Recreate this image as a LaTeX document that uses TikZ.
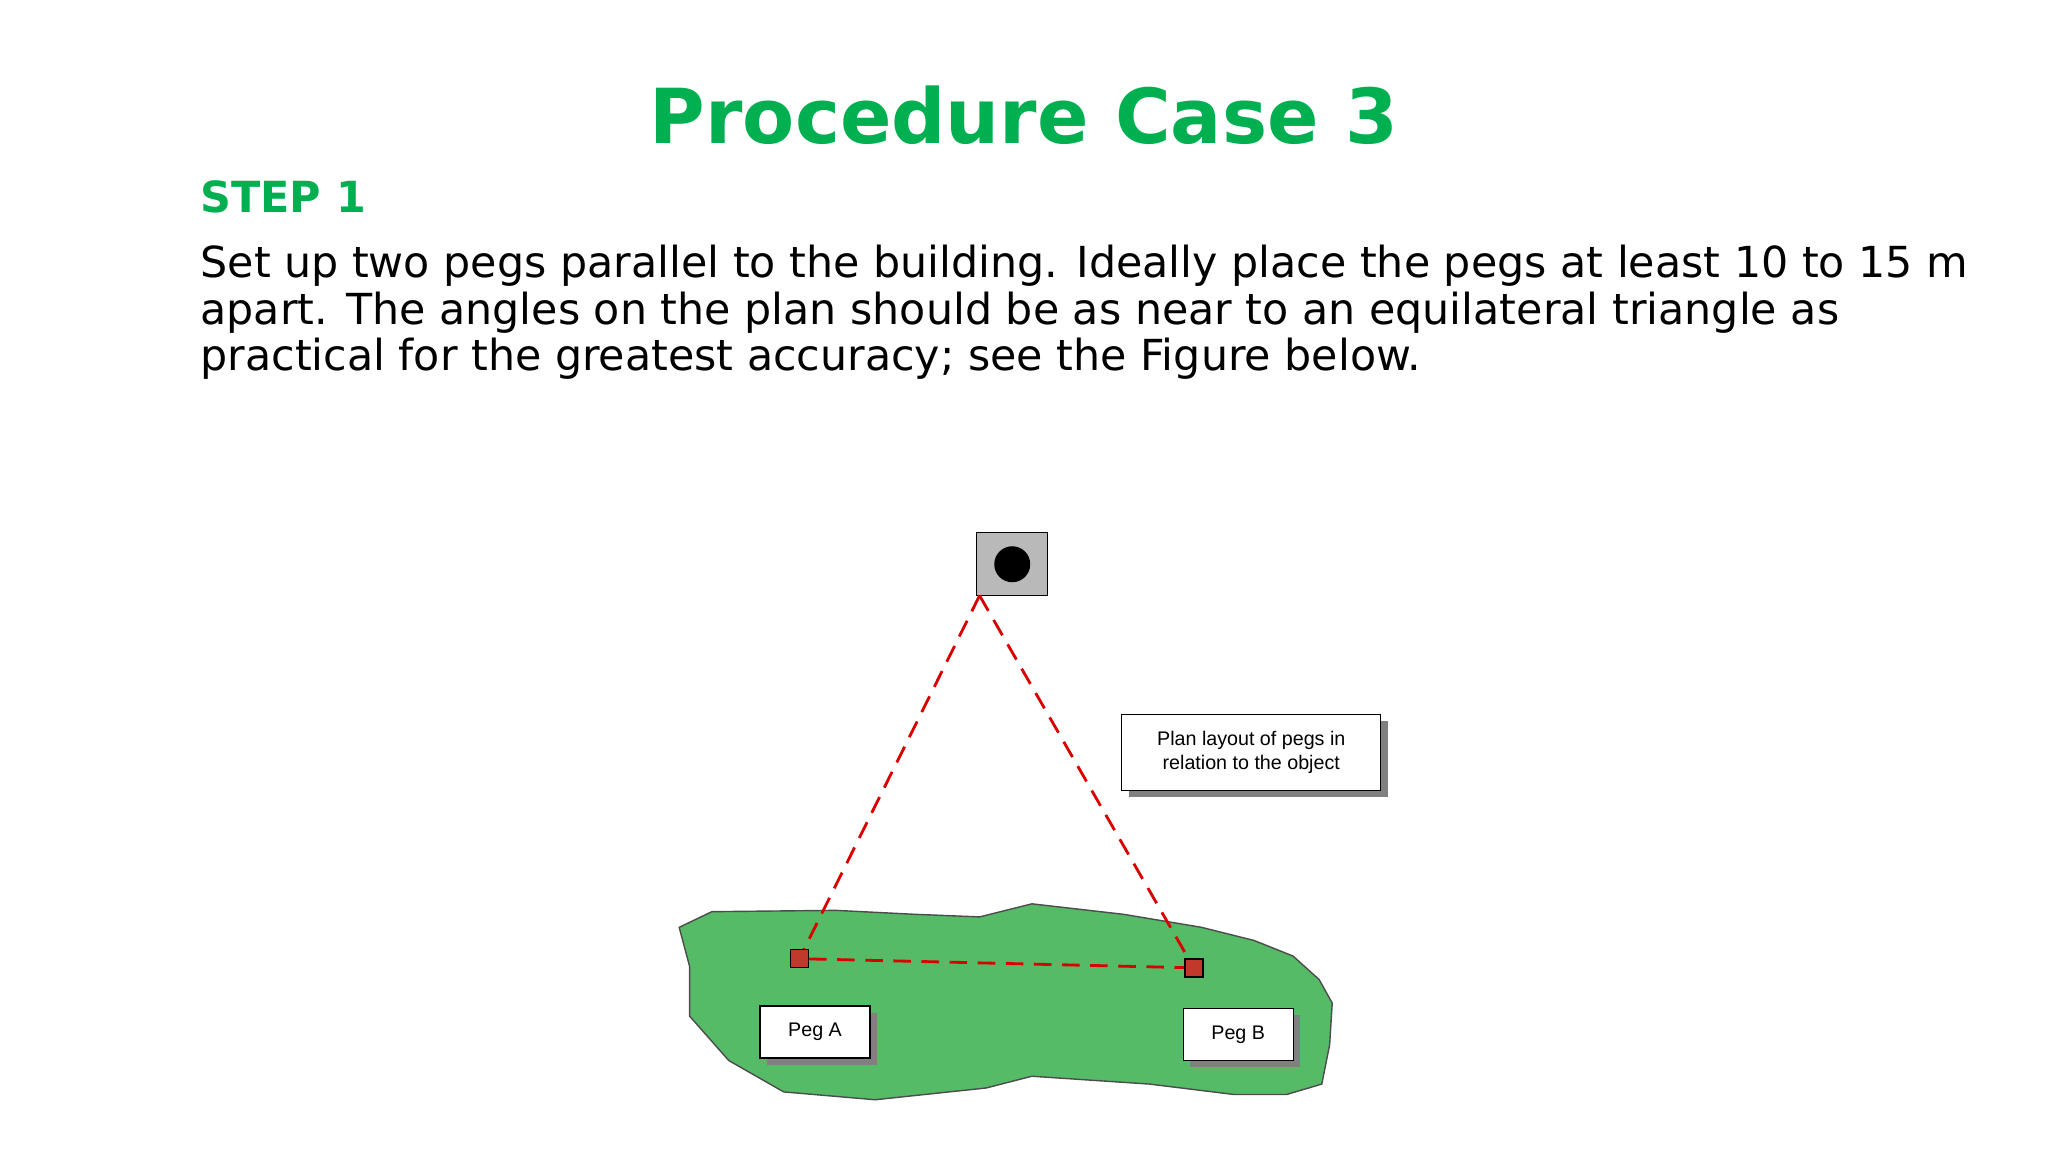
\documentclass[tikz,border=0pt]{standalone}
\usepackage{fontspec}
\setmainfont{DejaVu Sans}
\newfontfamily\arialfont{Liberation Sans}
\usetikzlibrary{positioning,shadows}
\definecolor{titleGreen}{HTML}{00B050}
\definecolor{landGreen}{HTML}{55BB66}
\definecolor{pegRed}{HTML}{C0392B}

\begin{document}
\begin{tikzpicture}[x=0.01306cm, y=-0.01306cm]
    % Styles
    \tikzstyle{label}=[rectangle, draw, fill=white, font=\arialfont\fontsize{5.6}{6.8}\selectfont, align=center,
        drop shadow={shadow xshift=2pt, shadow yshift=-2pt, fill=gray, opacity=1}]
    \tikzstyle{peg}=[rectangle, draw, fill=pegRed, minimum size=0.18cm, inner sep=0pt]
    \tikzstyle{sight}=[red!85!black, thick, dashed, dash pattern=on 5pt off 3pt]

    \useasboundingbox (0,0) rectangle (1568,882);

    % Texts
    \node[font=\bfseries\fontsize{21.6}{26}\selectfont, text=titleGreen] (title) at (784,88) {Procedure Case 3};
    \node[font=\bfseries\fontsize{12.2}{15}\selectfont, text=titleGreen, anchor=west, inner sep=0pt] (step) at (153,151) {STEP 1};
    \node[font=\fontsize{12.17}{13.3}\selectfont, anchor=north west, inner sep=0pt, align=left] (body) at (153,187)
        {Set up two pegs parallel to the building. Ideally place the pegs at least 10 to 15 m\\
         apart. The angles on the plan should be as near to an equilateral triangle as\\
         practical for the greatest accuracy; see the Figure below.};

    % Ground
    \draw[black!70, fill=landGreen] (520,710) -- (545,698) -- (640,697) -- (700,700) -- (750,702) -- (790,692)
        -- (860,700) -- (920,710) -- (960,720) -- (990,732) -- (1010,750) -- (1020,768) -- (1018,800)
        -- (1012,830) -- (985,838) -- (945,838) -- (880,830) -- (790,824) -- (755,833) -- (670,842)
        -- (600,836) -- (558,812) -- (528,778) -- (528,740) -- cycle;

    % Object
    \node[rectangle, draw, fill=gray!55, minimum width=0.71cm, minimum height=0.63cm] (object) at (775,432) {};
    \fill (object.center) circle (0.18cm);

    % Pegs
    \node[peg] (pegA) at (612,734) {};
    \node[peg] (pegB) at (914,741) {};
    \coordinate (apex) at (750,456);

    % Sight lines
    \draw[sight] (apex) -- (pegA);
    \draw[sight] (apex) -- (pegB);
    \draw[sight] (pegA) -- (pegB);

    % Labels
    \node[label, minimum width=2.59cm, minimum height=0.76cm] (plan) at (958,576) {Plan layout of pegs in\\relation to the object};
    \node[label, minimum width=1.10cm, minimum height=0.52cm] (labelA) at (624,790) {Peg A};
    \node[label, minimum width=1.10cm, minimum height=0.52cm] (labelB) at (948,792) {Peg B};
\end{tikzpicture}
\end{document}
